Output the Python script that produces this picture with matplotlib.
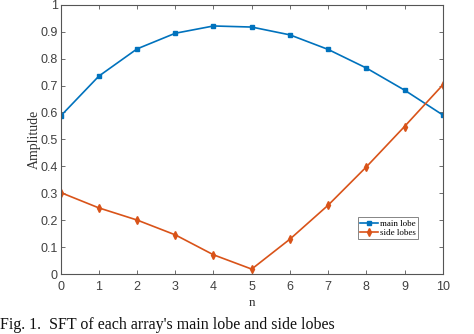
import matplotlib
matplotlib.use("Agg")
import matplotlib.pyplot as plt

n = list(range(11))
main_lobe = [0.587, 0.735, 0.836, 0.894, 0.921, 0.917, 0.888, 0.834, 0.765, 0.683, 0.591]
side_lobes = [0.303, 0.246, 0.201, 0.146, 0.072, 0.019, 0.130, 0.256, 0.398, 0.548, 0.702]
series_labels = ["main lobe", "side lobes"]
x_ticks = list(range(11))
y_ticks = [0, 0.1, 0.2, 0.3, 0.4, 0.5, 0.6, 0.7, 0.8, 0.9, 1]
y_tick_labels = ["0", "0.1", "0.2", "0.3", "0.4", "0.5", "0.6", "0.7", "0.8", "0.9", "1"]
caption = "Fig. 1.  SFT of each array's main lobe and side lobes"

blue = (0.0, 0.447, 0.741)
orange = (0.85, 0.325, 0.098)
axis_gray = "#555555"
serif = ["Liberation Serif", "DejaVu Serif"]
sans = ["Liberation Sans", "DejaVu Sans"]

fig = plt.figure(figsize=(4.74, 3.34), dpi=100)
ax = fig.add_axes([0.128, 0.179, 0.806, 0.807])

ax.plot(n, main_lobe, color=blue, lw=1.2, marker="s", ms=3.5,
        mfc=blue, mec=blue, label=series_labels[0])
ax.plot(n, side_lobes, color=orange, lw=1.2, marker="d", ms=4,
        mfc=orange, mec=orange, label=series_labels[1])

ax.set_xlim(0, 10)
ax.set_ylim(0, 1)
ax.set_xticks(x_ticks)
ax.set_yticks(y_ticks)
ax.set_yticklabels(y_tick_labels)
for lab in ax.get_xticklabels() + ax.get_yticklabels():
    lab.set_family(sans)
    lab.set_fontsize(9)
    lab.set_color("#404040")

ax.tick_params(direction="in", length=3, width=0.6, color=axis_gray,
               top=True, right=True)
ax.tick_params(axis="x", pad=5)
ax.tick_params(axis="y", pad=2)
for sp in ax.spines.values():
    sp.set_color(axis_gray)
    sp.set_linewidth(0.8)

ax.set_xlabel("n", family=serif, fontsize=9.5, color="#333333", labelpad=3)
ax.set_ylabel("Amplitude", family=serif, fontsize=10, color="#333333", labelpad=0)

leg = ax.legend(loc="lower right", bbox_to_anchor=(0.935, 0.13),
                prop={"family": serif, "size": 6.5}, frameon=True,
                fancybox=False, borderpad=0.25, labelspacing=0.1,
                handlelength=2.0, handletextpad=0.2, borderaxespad=0)
leg.get_frame().set_edgecolor("#666666")
leg.get_frame().set_linewidth(0.7)

fig.text(0.0, 0.004, caption, family=serif, fontsize=11.5, color="#111111",
         ha="left", va="bottom")

fig.savefig("out.png", dpi=100)
